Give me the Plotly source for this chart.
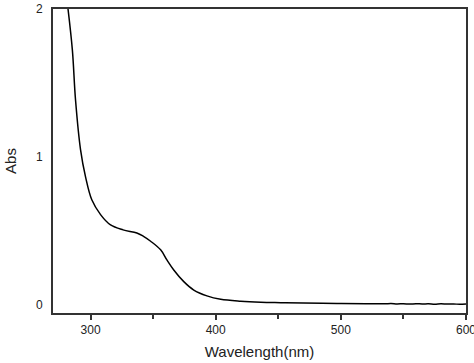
import plotly.graph_objects as go

wavelength = [282, 285.5, 288, 292, 296, 301, 308, 316, 326, 337, 342, 348, 356, 361, 366.5,
              374.5, 382.5, 393, 404, 420, 436, 452, 470, 497, 520, 535, 540, 545, 550, 555,
              560, 565, 570, 575, 580, 585, 590, 595, 600]
absorbance = [2.0, 1.72, 1.385, 1.05, 0.865, 0.71, 0.61, 0.54, 0.507, 0.486, 0.465, 0.43, 0.372, 0.304, 0.236,
              0.157, 0.10, 0.061, 0.038, 0.025, 0.018, 0.015, 0.012, 0.009, 0.008, 0.007, 0.009, 0.006, 0.008, 0.005,
              0.008, 0.006, 0.007, 0.004, 0.007, 0.005, 0.006, 0.004, 0.006]

x_ticks = [300, 400, 500, 600]
y_ticks = [0, 1, 2]

fig = go.Figure(go.Scatter(x=wavelength, y=absorbance, mode="lines",
                           line=dict(color="black", width=1.5, shape="spline", smoothing=1.0),
                           showlegend=False))

axis_font = dict(family="Liberation Sans, Arial, sans-serif", size=12, color="#222")
fig.update_layout(
    width=474, height=363,
    margin=dict(l=53, r=8, t=9, b=50, autoexpand=False),
    paper_bgcolor="white", plot_bgcolor="white",
    font=axis_font,
    xaxis=dict(range=[270, 600], tickvals=x_ticks, ticks="outside", ticklen=5, tickwidth=1.5,
               tickcolor="#333", showline=True, linecolor="#333", linewidth=2, mirror=True,
               showgrid=False, zeroline=False, automargin=False, ticklabeloverflow="allow",
               minor=dict(dtick=50, tick0=300, ticks="outside", ticklen=4, tickwidth=1.5, tickcolor="#333"),
               title=dict(text="Wavelength(nm)", font=dict(size=15), standoff=10)),
    yaxis=dict(range=[-0.055, 2.0], tickvals=y_ticks, ticks="", showline=True, linecolor="#333",
               linewidth=2, mirror=True, showgrid=False, zeroline=False, ticklabelstandoff=6,
               automargin=False, ticklabeloverflow="allow",
               title=dict(text="Abs", font=dict(size=15), standoff=16)),
)
fig.write_html("out.html", config={"displayModeBar": False},
               post_script="document.body.style.margin='0';")
